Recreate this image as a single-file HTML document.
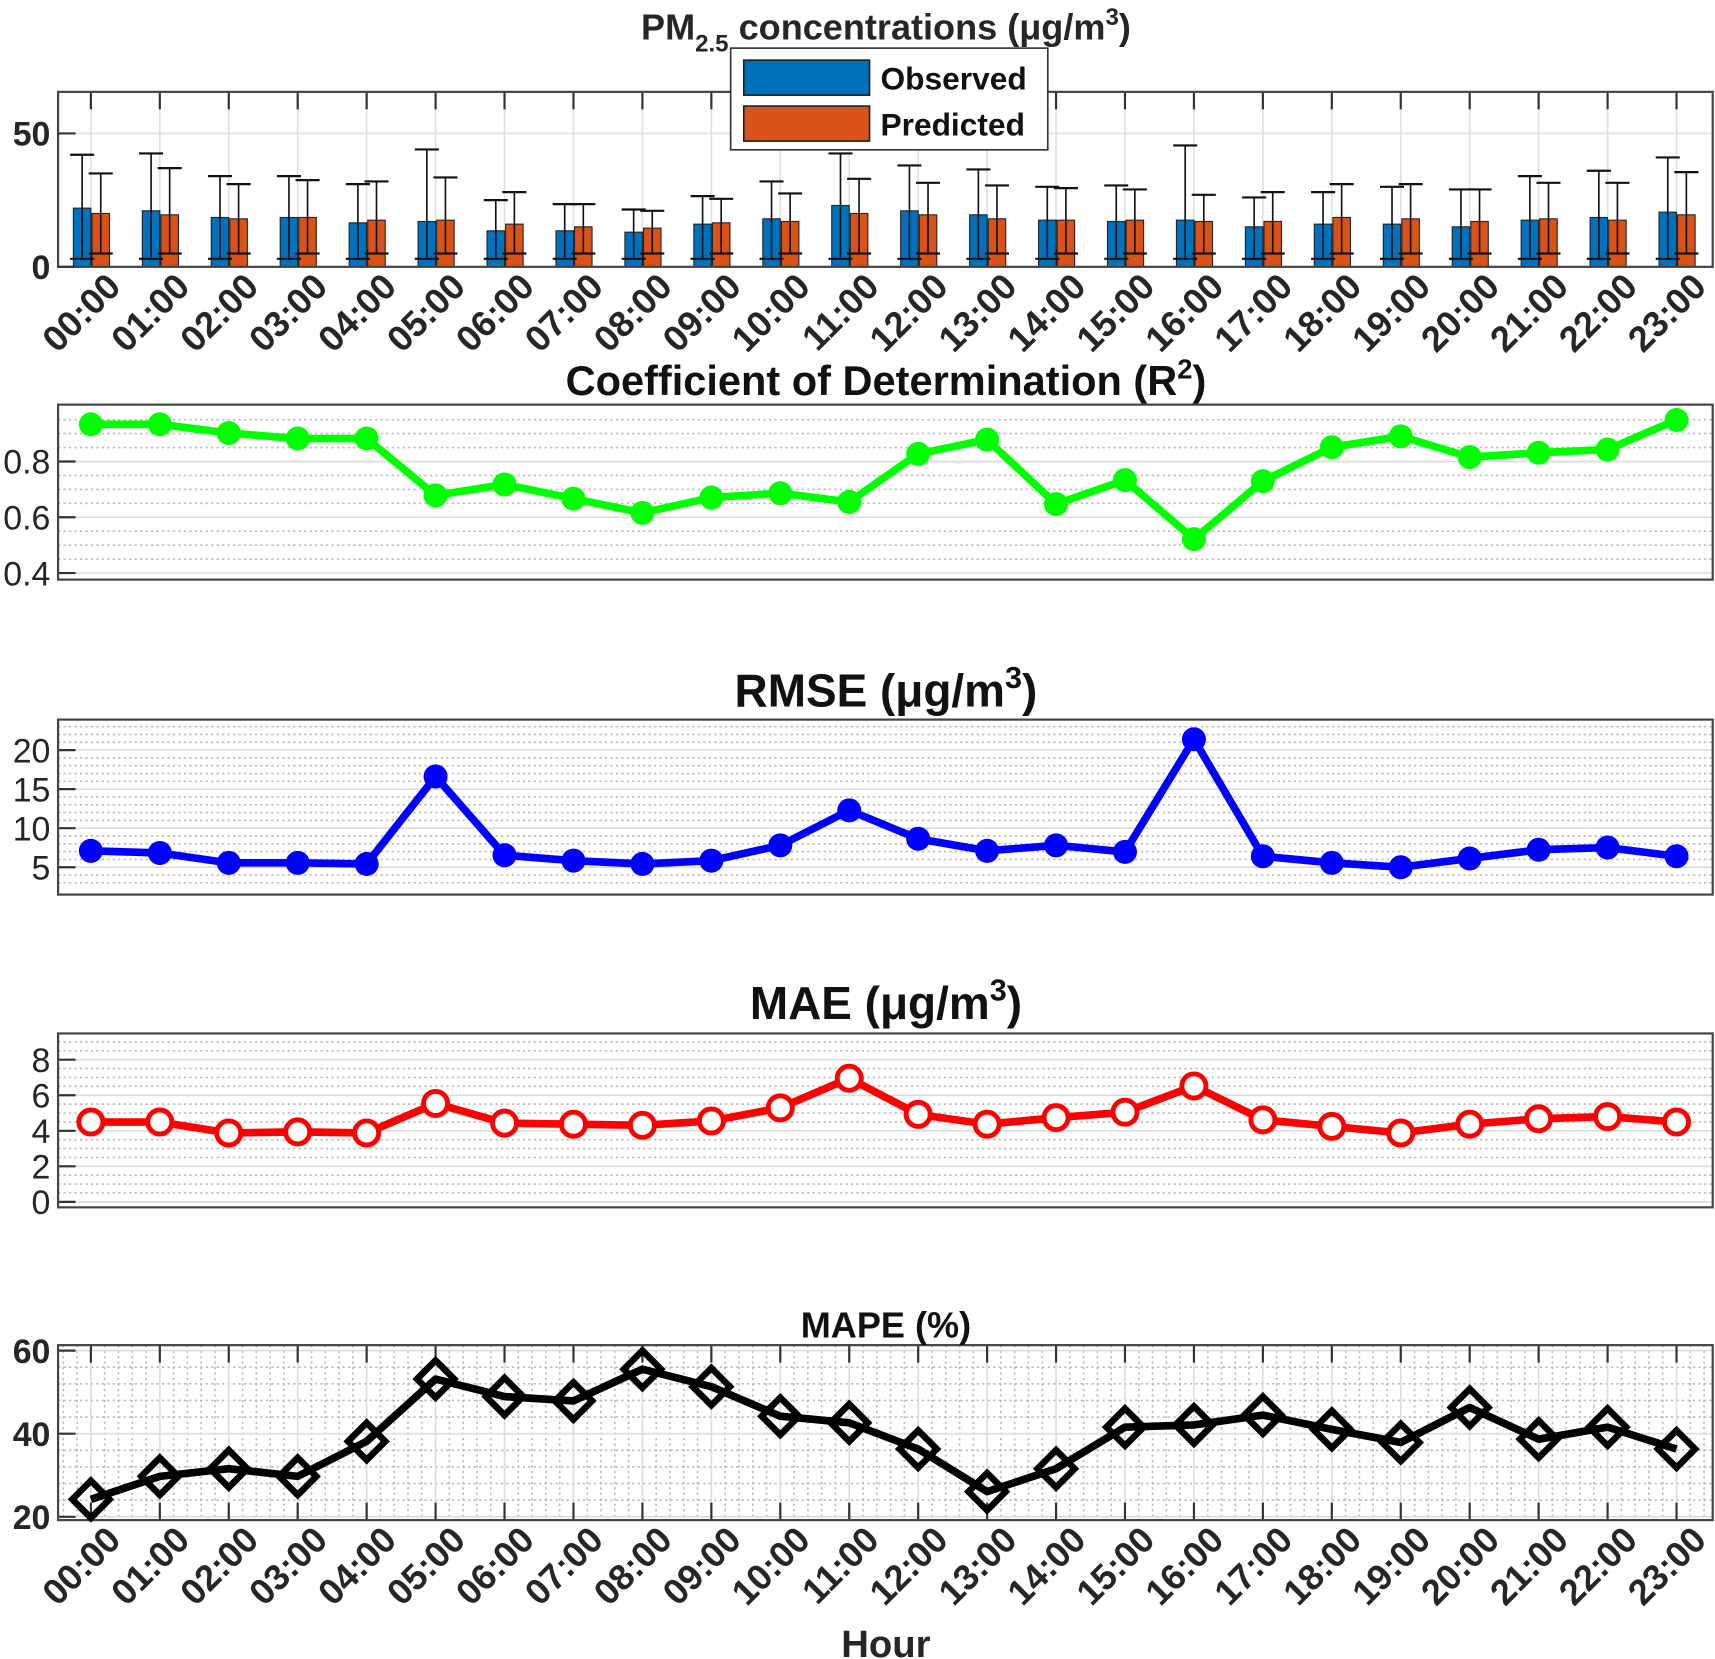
<!DOCTYPE html>
<html><head><meta charset="utf-8"><style>
html,body{margin:0;padding:0;background:#fff;}
svg{display:block;}
text{font-family:"Liberation Sans",Arial,sans-serif;fill:#262626;}
</style></head><body>
<svg id="s" xmlns="http://www.w3.org/2000/svg" width="1715" height="1659" viewBox="0 0 1568 1517"></svg>
<script>
const s=document.getElementById('s');let h='';
const X0=53,X1=1566,xt=i=>83+63.04*i;
const lab=i=>(i<10?'0':'')+i+':00';
function axesBox(y0,y1){h+=`<rect x="${X0}" y="${y0}" width="${X1-X0}" height="${y1-y0}" fill="none" stroke="#444" stroke-width="2"/>`;}
function hline(y,dash,col){h+=`<line x1="${X0}" x2="${X1}" y1="${y}" y2="${y}" stroke="${col}" stroke-width="1.5" ${dash?'stroke-dasharray="2,3"':''}/>`;}
function vline(x,y0,y1,dash,col){h+=`<line x1="${x}" x2="${x}" y1="${y0}" y2="${y1}" stroke="${col}" stroke-width="1.5" ${dash?'stroke-dasharray="2,3"':''}/>`;}
function ytick(y,t,size,bold){h+=`<line x1="${X0}" x2="${X0+16}" y1="${y}" y2="${y}" stroke="#333" stroke-width="2"/><text x="${X0-7}" y="${y+size*0.36}" text-anchor="end" font-size="${size}" ${bold?'font-weight="bold"':''}>${t}</text>`;}
function xlabels(y){for(let i=0;i<24;i++){const x=xt(i)+29;h+=`<text transform="translate(${x},${y}) rotate(-45)" text-anchor="end" font-size="33" font-weight="bold">${lab(i)}</text>`;}}
function xticks(y0,y1){for(let i=0;i<24;i++){h+=`<line x1="${xt(i)}" x2="${xt(i)}" y1="${y0}" y2="${y0+16}" stroke="#333" stroke-width="2"/><line x1="${xt(i)}" x2="${xt(i)}" y1="${y1}" y2="${y1-16}" stroke="#333" stroke-width="2"/>`;}}
function poly(ys,col,w){h+=`<polyline fill="none" stroke="${col}" stroke-width="${w}" stroke-linejoin="round" points="${ys.map((y,i)=>xt(i)+','+y).join(' ')}"/>`;}

// Panel 1
{const y0=84,y1=244,k=122/50,Y=v=>y1-v*k;
for(let i=0;i<24;i++)vline(xt(i),y0,y1,false,'#e0e0e0');
hline(Y(50),false,'#e0e0e0');xticks(y0,y1);
const ob=[22,21,18.5,18.5,16.5,17,13.5,13.5,13,16,18,23,21,19.5,17.5,17,17.5,15,16,16,15,17.5,18.5,20.5];
const pr=[20,19.5,18,18.5,17.5,17.5,16,15,14.5,16.5,17,20,19.5,18,17.5,17.5,17,17,18.5,18,17,18,17.5,19.5];
const ou=[42,42.5,34,34,31,44,25,23.5,21.5,26.5,32,42.5,38,36.5,30,30.5,45.5,26,28,30,29,34,36,41];
const pu=[35,37,31,32.5,32,33.5,28,23.5,21,25.5,27.5,33,31.5,30.5,29.5,29,27,28,31,31,29,31.5,31.5,35.5];
for(let i=0;i<24;i++){const x=xt(i);
h+=`<rect x="${x-16}" y="${Y(ob[i])}" width="16" height="${ob[i]*k}" fill="#0072BD" stroke="#222" stroke-width="1"/>`;
h+=`<rect x="${x+1}" y="${Y(pr[i])}" width="16" height="${pr[i]*k}" fill="#D95319" stroke="#222" stroke-width="1"/>`;
const e=(cx,lo,hi)=>{h+=`<line x1="${cx}" x2="${cx}" y1="${Y(lo)}" y2="${Y(hi)}" stroke="#111" stroke-width="1.5"/><line x1="${cx-11}" x2="${cx+11}" y1="${Y(hi)}" y2="${Y(hi)}" stroke="#111" stroke-width="2"/><line x1="${cx-11}" x2="${cx+11}" y1="${Y(lo)}" y2="${Y(lo)}" stroke="#111" stroke-width="2"/>`;};
e(x-8,3,ou[i]);e(x+9,5,pu[i]);}
axesBox(y0,y1);ytick(Y(50),'50',31,true);ytick(Y(0),'0',31,true);
xlabels(264);
h+=`<text x="810" y="36" text-anchor="middle" font-size="33" font-weight="bold">PM<tspan font-size="22" dy="11">2.5</tspan><tspan dy="-11"> concentrations (μg/m</tspan><tspan font-size="22" dy="-13">3</tspan><tspan dy="13">)</tspan></text>`;
h+=`<rect x="668" y="44" width="290" height="93" fill="#fff" stroke="#333" stroke-width="1.5"/>`;
h+=`<rect x="680" y="55" width="115" height="32" fill="#0072BD" stroke="#222" stroke-width="1.5"/><rect x="680" y="97" width="115" height="32" fill="#D95319" stroke="#222" stroke-width="1.5"/>`;
h+=`<text x="805" y="82" font-size="29" font-weight="bold" style="fill:#111">Observed</text><text x="805" y="124" font-size="29" font-weight="bold" style="fill:#111">Predicted</text>`;}

function panel(y0,y1,majors,minors,ticks,tsize,tbold){
 minors.forEach(y=>hline(y,true,'#bbb'));majors.forEach(y=>hline(y,false,'#ddd'));
 ticks.forEach(([y,t])=>ytick(y,t,tsize,tbold));axesBox(y0,y1);}

// Panel 2 R2
{const y0=370,y1=530;
const Y=v=>524-(v-0.4)*255;
const mins=[];for(let v=0.45;v<1.0;v+=0.05){const r=Math.round(v*100);if(r%20)mins.push(Y(r/100));}
panel(y0,y1,[Y(0.8),Y(0.6),Y(0.4)],mins,[[Y(0.8),'0.8'],[Y(0.6),'0.6'],[Y(0.4),'0.4']],31,false);
const ys=[388,388,396,401,401,453,443,456,469,455,451,459,415,402,461,439,493,440,409,399,418,414,411,384];
poly(ys,'#00FF00',7);ys.forEach((y,i)=>h+=`<circle cx="${xt(i)}" cy="${y}" r="11" fill="#00FF00"/>`);
h+=`<text x="810" y="361" text-anchor="middle" font-size="38" font-weight="bold" style="fill:#111">Coefficient of Determination (R<tspan font-size="25" dy="-15">2</tspan><tspan dy="15">)</tspan></text>`;}

// Panel 3 RMSE
{const y0=658,y1=818,Y=v=>793-(v-5)*7.14;const mins=[];for(let v=3;v<=24;v++){if(v%5){const y=Y(v);if(y>y0+2&&y<y1-2)mins.push(y);}}
panel(y0,y1,[Y(5),Y(10),Y(15),Y(20)],mins,[[Y(20),'20'],[Y(15),'15'],[Y(10),'10'],[Y(5),'5']],31,false);
const ys=[778,780,789,789,790,710,782,787,790,787,773,741,767,778,773,779,676,783,789,793,785,777,775,783];
poly(ys,'#0000FF',7);ys.forEach((y,i)=>h+=`<circle cx="${xt(i)}" cy="${y}" r="11" fill="#0000FF"/>`);
h+=`<text x="810" y="646" text-anchor="middle" font-size="42" font-weight="bold" style="fill:#111">RMSE (μg/m<tspan font-size="28" dy="-17">3</tspan><tspan dy="17">)</tspan></text>`;}

// Panel 4 MAE
{const y0=945,y1=1104,Y=v=>1099-v*16.25;const mins=[];for(let v=0.5;v<9.5;v+=0.5){if(Math.abs(v%2)>0.01){const y=Y(v);if(y>y0+2&&y<y1-2)mins.push(y);}}
panel(y0,y1,[Y(0),Y(2),Y(4),Y(6),Y(8)],mins,[[Y(8),'8'],[Y(6),'6'],[Y(4),'4'],[Y(2),'2'],[Y(0),'0']],31,false);
const ys=[1026,1026,1036,1035,1036,1009,1027,1028,1029,1025,1013,986,1019,1028,1022,1017,993,1024,1030,1036,1028,1023,1021,1026];
poly(ys,'#FF0000',7);ys.forEach((y,i)=>h+=`<circle cx="${xt(i)}" cy="${y}" r="11" fill="#fff" stroke="#FF0000" stroke-width="4.5"/>`);
h+=`<text x="810" y="932" text-anchor="middle" font-size="42" font-weight="bold" style="fill:#111">MAE (μg/m<tspan font-size="28" dy="-17">3</tspan><tspan dy="17">)</tspan></text>`;}

// Panel 5 MAPE
{const y0=1230,y1=1390,Y=v=>1387-(v-20)*3.8;
for(let i=0;i<24;i++)for(let j=1;j<5;j++){const x=xt(i)+j*63.04/5-63.04;if(x>X0)vline(x,y0,y1,true,'#bbb');}
for(let j=1;j<5;j++)vline(xt(23)+j*12.6,y0,y1,true,'#bbb');
const mins=[];for(let v=20;v<=62;v+=4){if(v%20){mins.push(Y(v));}}
mins.forEach(y=>hline(y,true,'#bbb'));
for(let i=0;i<24;i++)vline(xt(i),y0,y1,false,'#ddd');
[Y(20),Y(40),Y(60)].forEach(y=>hline(y,false,'#ddd'));xticks(y0,y1);
[[Y(60),'60'],[Y(40),'40'],[Y(20),'20']].forEach(([y,t])=>ytick(y,t,31,true));axesBox(y0,y1);
const ys=[1371,1350,1343,1350,1318,1261,1277,1281,1252,1268,1295,1301,1325,1364,1343,1305,1303,1294,1307,1319,1287,1316,1305,1325];
poly(ys,'#000',7);ys.forEach((y,i)=>{const x=xt(i),d=17;h+=`<polygon points="${x},${y-d} ${x+d},${y} ${x},${y+d} ${x-d},${y}" fill="none" stroke="#000" stroke-width="6"/>`;});
h+=`<text x="810" y="1223" text-anchor="middle" font-size="33" font-weight="bold" style="fill:#111">MAPE (%)</text>`;
xlabels(1410);
h+=`<text x="810" y="1515" text-anchor="middle" font-size="35" font-weight="bold">Hour</text>`;}
s.innerHTML=h;
</script>
</body></html>
